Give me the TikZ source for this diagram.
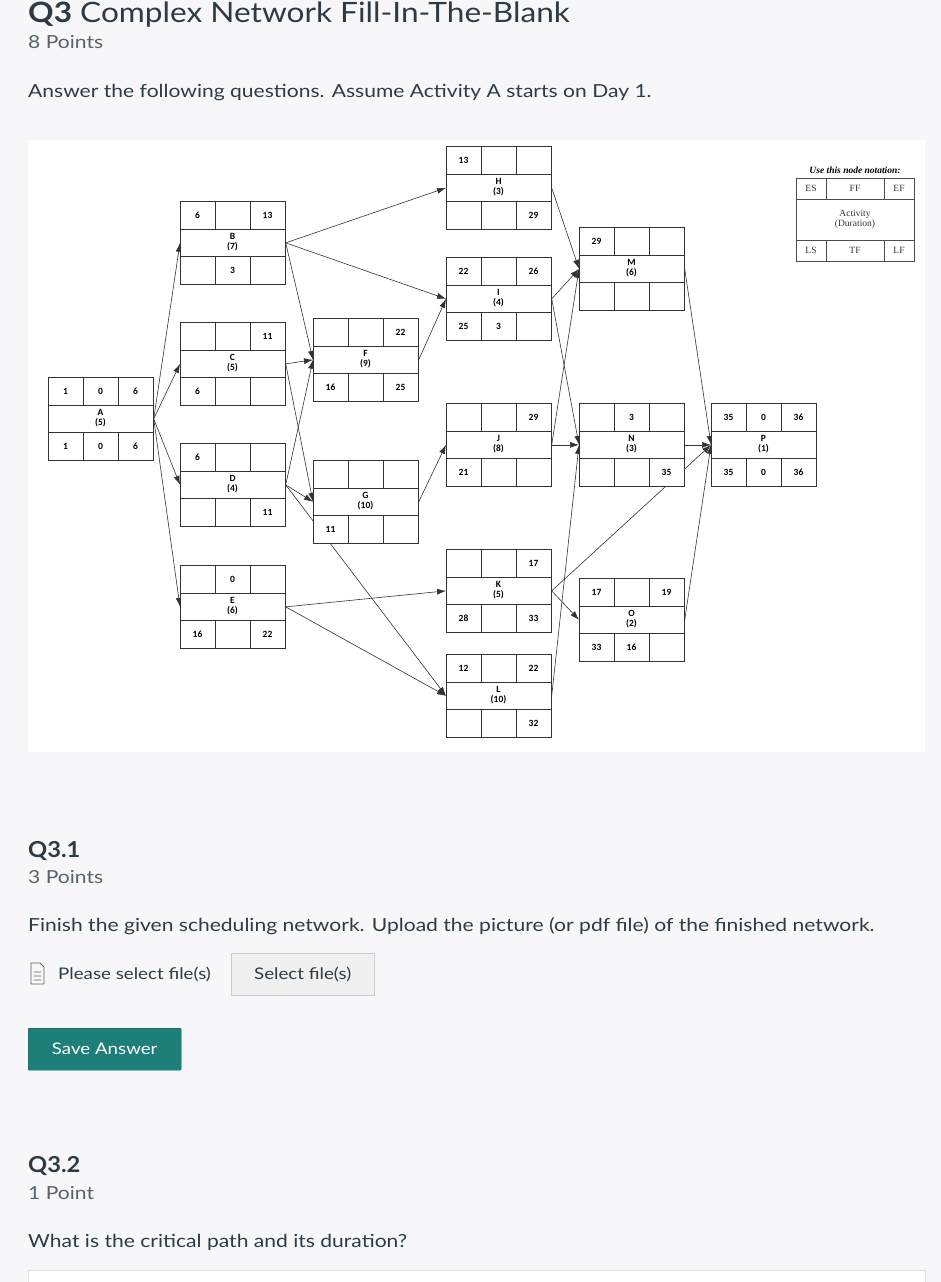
\documentclass[tikz,border=0pt]{standalone}
\usepackage{fontspec}
\setmainfont{Lato}
\newfontfamily\calfnt{Carlito}
\newfontfamily\serfnt{Liberation Serif}
\usetikzlibrary{arrows.meta}
\pgfdeclarelayer{back}\pgfdeclarelayer{bg}
\pgfsetlayers{back,bg,main}
\definecolor{ink}{HTML}{2D3B45}
\definecolor{pagebg}{HTML}{F7F7F9}
\definecolor{teal}{HTML}{1E7F78}
\tikzset{
 cell/.style={font=\calfnt\bfseries\fontsize{9.5}{10}\selectfont, inner sep=0},
 arr/.style={draw=black!80, line width=0.6pt, -{Latex[length=9pt,width=6pt]}},
 txt/.style={anchor=base west, inner sep=0, text=ink, xscale=1.17, transform shape},
 wide/.style={xscale=1.17, transform shape},
}
\newcommand\nd[7]{%
 \node[draw=black!80, line width=0.7pt, fill=white, minimum width=105, minimum height=83, anchor=north west, inner sep=0] (#1) at (#2,#3) {};
 \draw[black!80, line width=0.7pt] (#2,#3+28) -- (#2+105,#3+28) (#2,#3+55) -- (#2+105,#3+55)
   (#2+35,#3) -- (#2+35,#3+28) (#2+70,#3) -- (#2+70,#3+28)
   (#2+35,#3+55) -- (#2+35,#3+83) (#2+70,#3+55) -- (#2+70,#3+83);
 \foreach \t [count=\i] in {#4} \node[cell] at ({#2+\i*35-17.5},{#3+14}) {\t};
 \foreach \t [count=\i] in {#7} \node[cell] at ({#2+\i*35-17.5},{#3+69}) {\t};
 \node[cell, align=center] (#1-lab) at ({#2+52.5},{#3+41.5}) {#5\\[0pt](#6)};
}
\begin{document}
\begin{tikzpicture}[x=1pt,y=-1pt]
\begin{pgfonlayer}{back}
\fill[pagebg] (0,0) rectangle (941,1282);
\fill[white] (28,140) rectangle (925,752);
\end{pgfonlayer}
\useasboundingbox (0,0) rectangle (941,1282);
% header
\node[txt, xscale=0.965, font=\fontsize{28}{30}\selectfont] (title) at (28,22) {\textbf{Q3} Complex Network Fill-In-The-Blank};
\node[txt, font=\fontsize{18}{20}\selectfont, text=ink!80] (pts) at (28,48) {8 Points};
\node[txt, font=\fontsize{18}{20}\selectfont] (q) at (28,97) {Answer the following questions. Assume Activity A starts on Day 1.};
% nodes
\nd{A}{48}{377}{1,0,6}{A}{5}{1,0,6}
\nd{B}{180}{201}{6,,13}{B}{7}{,3,}
\nd{C}{180}{322}{,,11}{C}{5}{6,,}
\nd{D}{180}{443}{6,,}{D}{4}{,,11}
\nd{E}{180}{565}{,0,}{E}{6}{16,,22}
\nd{F}{313}{318}{,,22}{F}{9}{16,,25}
\nd{G}{313}{460}{,,}{G}{10}{11,,}
\nd{H}{446}{146}{13,,}{H}{3}{,,29}
\nd{I}{446}{257}{22,,26}{I}{4}{25,3,}
\nd{J}{446}{403}{,,29}{J}{8}{21,,}
\nd{K}{446}{549}{,,17}{K}{5}{28,,33}
\nd{L}{446}{654}{12,,22}{L}{10}{,,32}
\nd{M}{579}{227}{29,,}{M}{6}{,,}
\nd{N}{579}{403}{,3,}{N}{3}{,,35}
\nd{O}{579}{578}{17,,19}{O}{2}{33,16,}
\nd{P}{711}{403}{35,0,36}{P}{1}{35,0,36}
% edges
\begin{pgfonlayer}{bg}
\foreach \s/\t in {A/B,A/C,A/D,A/E,B/H,B/I,B/F,C/F,C/G,D/F,D/G,D/L,E/K,E/L,F/I,G/J,H/M,I/M,I/N,J/M,J/N,L/N,K/P,K/O,M/P,N/P,O/P}
  \draw[arr] (\s.east) -- (\t.west);
\end{pgfonlayer}
% legend
\node[font=\serfnt\bfseries\itshape\fontsize{9.5}{10}\selectfont, inner sep=0] (legt) at (855,170) {Use this node notation:};
\node[draw=black!70, line width=0.7pt, minimum width=118, minimum height=83, anchor=north west, inner sep=0] (leg) at (796,178) {};
\draw[black!70, line width=0.7pt] (796,199) -- (914,199) (796,240) -- (914,240)
  (826,178) -- (826,199) (884,178) -- (884,199) (826,240) -- (826,261) (884,240) -- (884,261);
\tikzset{lt/.style={font=\serfnt\fontsize{9.5}{10}\selectfont, text=black!80, inner sep=0, align=center}}
\node[lt] (les) at (811,188.5) {ES};
\node[lt] (lff) at (855,188.5) {FF};
\node[lt] (lef) at (899,188.5) {EF};
\node[lt] (lact) at (855,219.5) {Activity\\(Duration)};
\node[lt] (lls) at (811,250.5) {LS};
\node[lt] (ltf) at (855,250.5) {TF};
\node[lt] (llf) at (899,250.5) {LF};
% lower part
\node[txt, xscale=0.92, font=\bfseries\fontsize{22}{24}\selectfont] (q31) at (28,857) {Q3.1};
\node[txt, font=\fontsize{18}{20}\selectfont, text=ink!80] (p31) at (28,883) {3 Points};
\node[txt, font=\fontsize{18}{20}\selectfont] (fin) at (28,931) {Finish the given scheduling network. Upload the picture (or pdf file) of the finished network.};
\draw[ink!80, line width=0.8pt] (31,963) -- (40,963) -- (44,967) -- (44,984) -- (31,984) -- cycle (34,972) -- (41,972) (34,976) -- (41,976) (34,980) -- (41,980);
\node[txt, font=\fontsize{16}{18}\selectfont] (psel) at (58,979) {Please select file(s)};
\node[draw=black!20, fill=black!6, minimum width=143, minimum height=42, anchor=north west, inner sep=0] (selb) at (231,953) {};
\node[wide, font=\fontsize{16}{18}\selectfont, text=ink, inner sep=0] (selt) at (selb.center) {Select file(s)};
\node[draw=teal!70!black, fill=teal, minimum width=153, minimum height=42, anchor=north west, inner sep=0, rounded corners=1pt] (save) at (28,1028) {};
\node[wide, font=\fontsize{16}{18}\selectfont, text=white, inner sep=0] (savet) at (save.center) {Save Answer};
\node[txt, xscale=0.92, font=\bfseries\fontsize{22}{24}\selectfont] (q32) at (28,1172) {Q3.2};
\node[txt, font=\fontsize{18}{20}\selectfont, text=ink!80] (p32) at (28,1199) {1 Point};
\node[txt, font=\fontsize{18}{20}\selectfont] (wh) at (28,1247) {What is the critical path and its duration?};
\filldraw[fill=white, draw=black!12] (28,1290) -- (28,1270) -- (925,1270) -- (925,1290);
\end{tikzpicture}
\end{document}
